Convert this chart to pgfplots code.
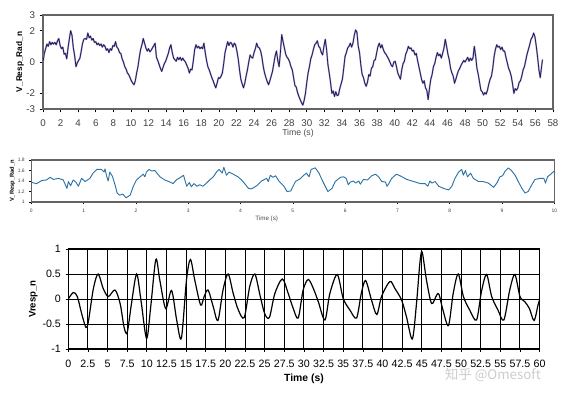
\documentclass[border=0pt]{standalone}
\usepackage{pgfplots}
\usepackage{pgfplotstable}
\pgfplotsset{compat=1.18}
\usepackage{fontspec}
\setmainfont{Liberation Sans}
\newfontfamily\cjk{Noto Sans CJK SC}
\definecolor{navyA}{RGB}{30,25,85}
\definecolor{lavA}{RGB}{160,150,200}
\definecolor{rblue}{RGB}{45,115,165}
\definecolor{frameA}{RGB}{100,100,100}

\pgfplotstableread{
t v
0.00 0.00
0.15 0.55
0.30 0.85
0.45 1.15
0.60 1.00
0.75 1.30
0.90 1.10
1.05 1.25
1.20 1.15
1.35 1.25
1.50 1.10
1.65 1.35
1.80 1.50
1.95 1.05
2.10 0.85
2.25 0.95
2.40 0.50
2.55 0.55
2.70 0.20
2.85 0.90
3.00 1.50
3.15 2.00
3.30 1.70
3.45 0.90
3.60 0.40
3.75 -0.30
3.90 -0.05
4.05 0.10
4.20 0.25
4.35 0.70
4.50 1.20
4.65 1.45
4.80 1.50
4.95 1.45
5.10 1.85
5.25 1.55
5.40 1.65
5.55 1.40
5.70 1.50
5.85 1.25
6.00 1.30
6.15 1.10
6.30 1.20
6.45 1.05
6.60 1.15
6.75 0.95
6.90 1.10
7.05 1.00
7.20 0.75
7.35 0.85
7.50 0.60
7.65 0.85
7.80 0.75
7.95 1.05
8.10 1.00
8.25 1.30
8.40 0.95
8.55 0.85
8.70 0.60
8.85 0.55
9.00 0.20
9.15 0.00
9.30 -0.30
9.45 -0.45
9.60 -0.70
9.75 -0.80
9.90 -1.00
10.05 -1.20
10.20 -1.35
10.35 -1.45
10.50 -1.20
10.65 -0.70
10.80 -0.30
10.95 0.30
11.10 0.80
11.25 1.10
11.40 1.50
11.55 1.20
11.70 0.90
11.85 0.70
12.00 0.85
12.15 0.65
12.30 0.75
12.45 0.90
12.60 1.05
12.75 1.20
12.90 0.30
13.05 0.10
13.20 -0.15
13.35 -0.40
13.50 -0.60
13.65 -0.35
13.80 -0.10
13.95 0.05
14.10 0.30
14.25 0.55
14.40 0.90
14.55 1.10
14.70 0.60
14.85 0.25
15.00 0.15
15.15 0.05
15.30 0.30
15.45 0.15
15.60 0.30
15.75 0.10
15.90 0.25
16.05 0.10
16.20 0.00
16.35 -0.20
16.50 -0.40
16.65 -0.70
16.80 -0.45
16.95 -0.50
17.10 0.10
17.25 0.80
17.40 1.10
17.55 0.90
17.70 1.00
17.85 0.85
18.00 0.95
18.15 0.85
18.30 1.20
18.45 0.60
18.60 0.10
18.75 -0.30
18.90 -0.50
19.05 -0.75
19.20 -1.00
19.35 -1.20
19.50 -1.45
19.65 -1.65
19.80 -1.35
19.95 -1.00
20.10 -1.05
20.25 -0.90
20.40 -0.70
20.55 -0.10
20.70 0.60
20.85 0.95
21.00 1.30
21.15 1.05
21.30 1.25
21.45 1.20
21.60 0.95
21.75 1.20
21.90 1.10
22.05 0.70
22.20 0.20
22.35 -0.50
22.50 -1.10
22.65 -1.40
22.80 -1.65
22.95 -1.35
23.10 -0.90
23.25 -0.50
23.40 0.00
23.55 0.45
23.70 0.30
23.85 0.25
24.00 0.60
24.15 0.85
24.30 1.20
24.45 0.95
24.60 0.90
24.75 0.70
24.90 0.30
25.05 -0.30
25.20 -0.70
25.35 -1.00
25.50 -1.25
25.65 -1.45
25.80 -1.20
25.95 -0.90
26.10 -0.60
26.25 -0.10
26.40 0.40
26.55 0.70
26.70 0.10
26.85 -0.30
27.00 0.60
27.15 1.75
27.30 1.30
27.45 0.90
27.60 0.50
27.75 0.30
27.90 0.20
28.05 0.00
28.20 -0.30
28.35 -0.50
28.50 -1.00
28.65 -1.50
28.80 -1.60
28.95 -1.95
29.10 -2.20
29.25 -2.40
29.40 -2.60
29.55 -2.75
29.70 -2.45
29.85 -2.00
30.00 -1.30
30.15 -0.70
30.30 -0.30
30.45 0.20
30.60 0.45
30.75 0.80
30.90 1.10
31.05 1.20
31.20 1.35
31.35 1.00
31.50 0.90
31.65 0.60
31.80 0.45
31.95 1.00
32.10 1.45
32.25 0.80
32.40 -0.15
32.55 -0.70
32.70 -1.30
32.85 -2.00
33.00 -1.85
33.15 -2.20
33.30 -1.90
33.45 -2.15
33.60 -2.10
33.75 -1.70
33.90 -1.40
34.05 -1.10
34.20 -0.40
34.35 0.35
34.50 0.60
34.65 0.90
34.80 1.00
34.95 1.20
35.10 0.95
35.25 1.20
35.40 1.70
35.55 2.05
35.70 1.90
35.85 1.00
36.00 0.60
36.15 -0.20
36.30 -0.80
36.45 -1.00
36.60 -1.35
36.75 -1.55
36.90 -1.30
37.05 -0.80
37.20 -0.90
37.35 -0.40
37.50 -0.30
37.65 0.10
37.80 0.15
37.95 0.60
38.10 1.00
38.25 1.20
38.40 0.90
38.55 1.10
38.70 0.80
38.85 0.60
39.00 0.50
39.15 0.35
39.30 0.20
39.45 0.00
39.60 -0.20
39.75 -0.30
39.90 0.00
40.05 0.05
40.20 -0.30
40.35 -0.70
40.50 -0.90
40.65 -1.10
40.80 -0.50
40.95 -0.10
41.10 0.05
41.25 0.50
41.40 0.70
41.55 1.00
41.70 0.85
41.85 0.90
42.00 0.70
42.15 0.75
42.30 0.45
42.45 0.55
42.60 0.10
42.75 -0.30
42.90 -0.70
43.05 -1.10
43.20 -1.35
43.35 -1.20
43.50 -1.65
43.65 -1.80
43.80 -2.40
43.95 -1.70
44.10 -1.10
44.25 -0.80
44.40 -0.30
44.55 -0.10
44.70 0.30
44.85 0.60
45.00 0.40
45.15 0.50
45.30 0.25
45.45 0.55
45.60 0.90
45.75 1.45
45.90 1.00
46.05 0.50
46.20 0.15
46.35 -0.40
46.50 -0.70
46.65 -0.90
46.80 -1.35
46.95 -1.10
47.10 -0.80
47.25 -0.55
47.40 -0.40
47.55 -0.20
47.70 -0.05
47.85 0.10
48.00 0.00
48.15 0.15
48.30 0.30
48.45 0.05
48.60 0.25
48.75 0.10
48.90 0.25
49.05 1.00
49.20 0.40
49.35 -0.40
49.50 -0.80
49.65 -1.30
49.80 -1.80
49.95 -1.90
50.10 -2.10
50.25 -1.95
50.40 -2.05
50.55 -1.80
50.70 -1.40
50.85 -1.10
51.00 -0.90
51.15 -0.40
51.30 0.35
51.45 0.80
51.60 1.10
51.75 0.95
51.90 1.00
52.05 0.80
52.20 0.95
52.35 0.70
52.50 0.70
52.65 0.30
52.80 -0.05
52.95 -0.40
53.10 -0.60
53.25 -0.90
53.40 -1.40
53.55 -2.00
53.70 -1.70
53.85 -1.80
54.00 -1.65
54.15 -1.30
54.30 -1.20
54.45 -0.90
54.60 -0.50
54.75 -0.30
54.90 0.10
55.05 0.50
55.20 0.80
55.35 1.10
55.50 1.45
55.65 1.60
55.80 1.85
55.95 1.60
56.10 1.00
56.25 0.30
56.40 -0.50
56.55 -1.00
56.70 -0.30
56.80 0.15
}\respA

\pgfplotstableread{
t v
0.00 1.375
0.10 1.35
0.20 1.41
0.29 1.42
0.36 1.47
0.42 1.43
0.52 1.45
0.61 1.42
0.68 1.26
0.71 1.39
0.75 1.31
0.80 1.42
0.85 1.38
0.90 1.30
0.96 1.45
1.03 1.39
1.12 1.45
1.18 1.55
1.25 1.62
1.34 1.62
1.39 1.57
1.41 1.63
1.44 1.49
1.47 1.40
1.50 1.57
1.55 1.49
1.60 1.33
1.64 1.17
1.69 1.13
1.75 1.15
1.81 1.08
1.89 1.13
1.95 1.30
2.01 1.42
2.08 1.48
2.14 1.53
2.17 1.48
2.20 1.57
2.25 1.62
2.30 1.59
2.36 1.60
2.46 1.48
2.55 1.42
2.65 1.38
2.71 1.35
2.77 1.42
2.87 1.48
2.91 1.51
2.97 1.30
3.02 1.37
3.06 1.29
3.11 1.35
3.17 1.30
3.22 1.33
3.28 1.30
3.36 1.37
3.41 1.42
3.48 1.48
3.54 1.57
3.59 1.62
3.65 1.55
3.68 1.66
3.73 1.51
3.78 1.57
3.86 1.53
3.95 1.48
4.02 1.42
4.08 1.35
4.15 1.26
4.21 1.25
4.31 1.31
4.40 1.40
4.50 1.45
4.53 1.39
4.57 1.51
4.62 1.47
4.67 1.50
4.74 1.39
4.83 1.30
4.89 1.20
4.96 1.21
5.05 1.39
5.15 1.45
5.21 1.51
5.26 1.55
5.31 1.48
5.35 1.62
5.40 1.64
5.43 1.65
5.50 1.55
5.56 1.42
5.62 1.30
5.67 1.20
5.75 1.26
5.81 1.39
5.91 1.47
5.97 1.48
6.02 1.45
6.06 1.33
6.10 1.38
6.16 1.40
6.20 1.36
6.26 1.40
6.29 1.34
6.35 1.43
6.43 1.42
6.51 1.50
6.58 1.53
6.64 1.48
6.70 1.39
6.77 1.38
6.80 1.30
6.83 1.34
6.89 1.45
6.98 1.53
7.05 1.50
7.18 1.43
7.31 1.39
7.44 1.35
7.53 1.35
7.58 1.30
7.62 1.40
7.66 1.36
7.72 1.39
7.79 1.30
7.88 1.26
7.98 1.23
8.04 1.30
8.10 1.45
8.17 1.57
8.23 1.62
8.26 1.51
8.30 1.60
8.34 1.48
8.40 1.55
8.45 1.45
8.55 1.39
8.64 1.39
8.74 1.36
8.84 1.28
8.90 1.36
8.96 1.48
9.01 1.50
9.06 1.59
9.12 1.65
9.18 1.60
9.25 1.51
9.31 1.39
9.38 1.26
9.44 1.17
9.50 1.20
9.57 1.33
9.63 1.43
9.73 1.45
9.80 1.45
9.83 1.36
9.87 1.48
9.93 1.53
10.00 1.59
}\respB

\pgfplotstableread{
t v
0.00 0.00
0.64 0.13
1.15 0.05
1.70 -0.29
2.25 -0.57
2.55 -0.46
3.20 0.21
3.80 0.50
4.45 0.21
5.10 0.05
5.95 0.18
6.60 -0.09
7.10 -0.56
7.50 -0.67
8.05 -0.09
8.70 0.50
9.25 -0.02
9.97 -0.79
10.50 -0.15
11.15 0.79
11.65 0.38
12.40 -0.19
13.15 0.17
13.80 -0.42
14.40 -0.78
15.05 0.38
15.55 0.79
16.10 0.38
16.85 -0.12
17.30 0.05
17.80 0.18
18.45 -0.15
19.05 -0.43
19.70 0.18
20.35 0.50
21.00 0.11
21.65 -0.22
22.40 -0.37
23.10 0.25
23.75 0.50
24.40 0.08
25.00 -0.29
25.60 -0.37
26.30 0.11
27.25 0.40
28.00 0.11
28.64 -0.19
29.27 -0.38
29.90 0.18
30.55 0.39
31.20 0.21
31.82 -0.05
32.67 -0.42
33.30 0.11
34.24 0.49
35.00 0.01
35.85 -0.22
36.70 -0.38
37.30 0.11
37.85 0.37
38.60 -0.02
39.28 -0.31
39.88 0.05
40.94 0.35
41.58 0.21
42.43 -0.02
43.06 -0.36
43.80 -0.80
44.33 -0.09
44.76 0.72
45.05 0.94
45.60 0.38
46.25 -0.09
46.90 0.08
47.20 0.09
47.70 -0.22
48.40 -0.53
49.00 0.11
49.64 0.50
50.30 0.05
51.10 -0.22
51.97 -0.42
52.60 0.15
53.25 0.49
53.90 0.05
54.70 -0.22
55.45 -0.42
56.20 0.18
56.85 0.49
57.50 0.05
58.10 -0.05
58.70 -0.19
59.30 -0.43
59.80 -0.12
60.00 -0.02
}\respC

\begin{document}
\begin{tikzpicture}
\useasboundingbox (0,0) rectangle (426pt,295.5pt);
% ---------- Panel 1 ----------
\begin{axis}[
  scale only axis, width=382.5pt, height=70.5pt,
  at={(32.25pt,213.75pt)}, anchor=south west,
  xmin=0, xmax=58, ymin=-3, ymax=3,
  xtick={0,2,...,58}, ytick={-3,-2,0,2,3},
  xtick pos=bottom, ytick pos=left,
  tick align=outside, major tick length=2.5pt,
  tick style={black, line width=0.5pt},
  axis line style={frameA, line width=0.9pt},
  ticklabel style={font=\fontsize{7.3}{8}\selectfont, text=black!75},
  xticklabel style={yshift=-2pt},
  /pgf/number format/assume math mode=true,
  xlabel={Time (s)}, ylabel={V\_Resp\_Rad\_n},
  xlabel style={at={([yshift=-18pt]axis description cs:0.5,0)}, anchor=center,
    font=\fontsize{6.5}{7}\selectfont, text=black!70},
  ylabel style={at={([xshift=-17.25pt]axis description cs:0,0.5)}, anchor=center,
    font=\bfseries\fontsize{6.2}{7}\selectfont},
]
\addplot[lavA, line width=1.2pt, line join=round] table[x=t,y=v] {\respA};
\addplot[navyA, line width=0.55pt, line join=round] table[x=t,y=v] {\respA};
\end{axis}
% ---------- Panel 2 ----------
\begin{axis}[
  scale only axis, width=392.25pt, height=31.5pt,
  at={(23.5pt,144pt)}, anchor=south west,
  xmin=0, xmax=10, ymin=1, ymax=1.8,
  xtick={0,1,...,10}, ytick={1,1.2,1.4,1.6,1.8},
  xtick pos=bottom, ytick pos=left,
  tick align=outside, major tick length=1.5pt,
  tick style={black, line width=0.4pt},
  axis line style={frameA, line width=0.8pt},
  ticklabel style={font=\fontsize{3.7}{4}\selectfont, text=black!75},
  yticklabel style={/pgf/number format/fixed, /pgf/number format/precision=1},
  /pgf/number format/assume math mode=true,
  xlabel={Time (s)}, ylabel={V\_Resp\_Rad\_n},
  xlabel style={at={([yshift=-12.75pt]axis description cs:0.45,0)}, anchor=center,
    font=\fontsize{4.7}{5}\selectfont, text=black!70},
  ylabel style={at={([xshift=-14.25pt]axis description cs:0,0.5)}, anchor=center,
    font=\bfseries\fontsize{4.3}{5}\selectfont},
]
\addplot[rblue, line width=0.7pt, line join=round] table[x=t,y=v] {\respB};
\end{axis}
% ---------- Panel 3 ----------
\begin{axis}[
  scale only axis, width=353.5pt, height=75pt,
  at={(51.2pt,33.75pt)}, anchor=south west,
  xmin=0, xmax=60, ymin=-1, ymax=1,
  xtick={0,2.5,5,7.5,10,12.5,15,17.5,20,22.5,25,27.5,30,32.5,35,37.5,40,42.5,45,47.5,50,52.5,55,57.5,60},
  xticklabels={0,2.5,5,7.5,10,12.5,15,17.5,20,22.5,25,27.5,30,32.5,35,37.5,40,42.5,45,47.5,50,52.5,55,57.5,60},
  ytick={-1,-0.5,0,0.5,1},
  yticklabels={-1,-0.5,0,0.5,1},
  xtick pos=bottom, ytick pos=left,
  tick align=outside, major tick length=2pt,
  tick style={black, line width=0.5pt},
  grid=major, major grid style={black, line width=0.7pt},
  axis line style={black, line width=0.8pt},
  ticklabel style={font=\fontsize{8}{9}\selectfont, text=black},
  xticklabel style={yshift=-2.5pt},
  /pgf/number format/assume math mode=true,
  xlabel={Time (s)}, ylabel={Vresp\_n},
  xlabel style={at={([yshift=-22.5pt]axis description cs:0.5,0)}, anchor=center,
    font=\bfseries\fontsize{7.8}{9}\selectfont},
  ylabel style={at={([xshift=-26.25pt]axis description cs:0,0.5)}, anchor=center,
    font=\bfseries\fontsize{7.2}{8}\selectfont},
]
\addplot[black, line width=0.9pt, smooth] table[x=t,y=v] {\respC};
\end{axis}
\node[text=gray!40, font=\cjk\fontsize{10}{12}\selectfont, anchor=center] at (369.75pt,14.5pt) {知乎 @Omesoft};
\end{tikzpicture}
\end{document}
